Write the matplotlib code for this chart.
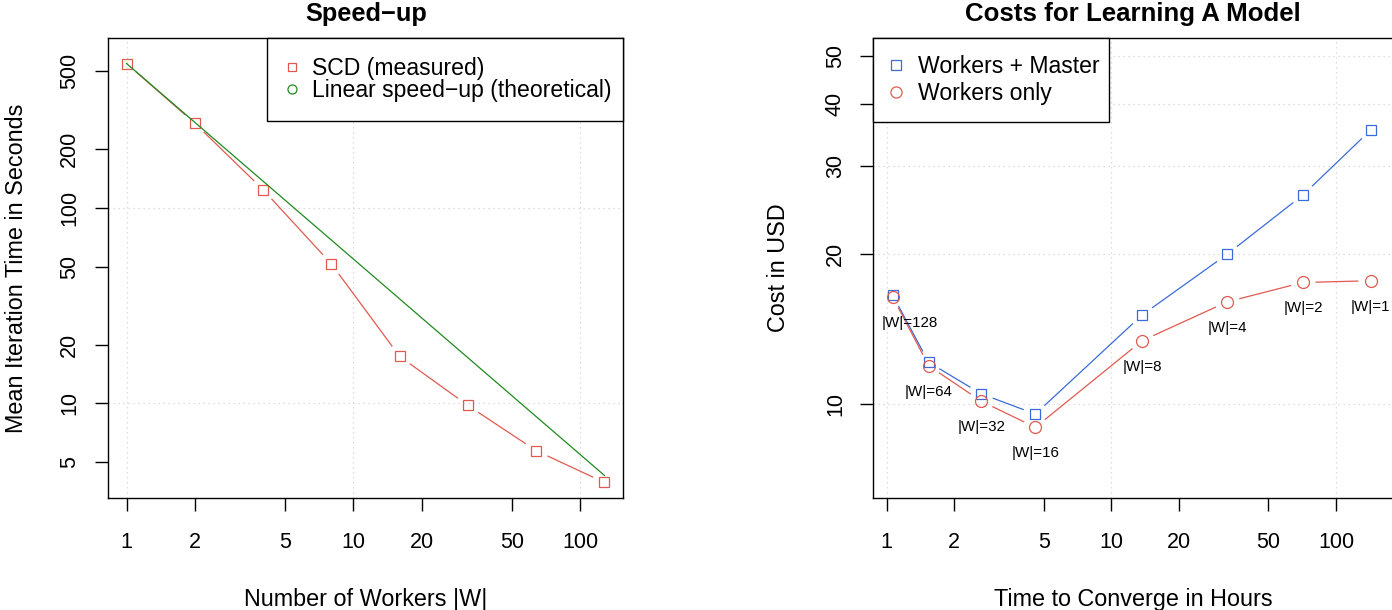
import matplotlib
matplotlib.use("Agg")
import matplotlib.pyplot as plt
from matplotlib.lines import Line2D
from matplotlib.ticker import FixedLocator, FixedFormatter, NullLocator
import numpy as np

plt.rcParams['font.family'] = ['Liberation Sans', 'DejaVu Sans']

# data
workers = [1, 2, 4, 8, 16, 32, 64, 128]
scd_time = [548, 271, 124, 51.7, 17.4, 9.76, 5.73, 3.94]
linear_time = [548, 274, 137, 68.5, 34.3, 17.1, 8.56, 4.28]

hours = [1.063, 1.538, 2.633, 4.59, 13.7, 32.8, 71.4, 142.9]
cost_total = [16.56, 12.14, 10.5, 9.56, 15.1, 20.0, 26.3, 35.5]
cost_workers = [16.43, 11.95, 10.15, 8.99, 13.41, 16.05, 17.55, 17.69]
point_labels = ['|W|=128', '|W|=64', '|W|=32', '|W|=16', '|W|=8', '|W|=4', '|W|=2', '|W|=1']

x_ticks = [1, 2, 5, 10, 20, 50, 100]
y_ticks_left = [5, 10, 20, 50, 100, 200, 500]
y_ticks_right = [10, 20, 30, 40, 50]

RED = '#e05a50'
BLUE = '#3a6bd6'
GREEN = '#1f8a1f'

W, H = 1392, 610
fig = plt.figure(figsize=(W / 100, H / 100), dpi=100)


def px_axes(x0, x1, top, bottom):
    return fig.add_axes([x0 / W, (H - bottom) / H, (x1 - x0) / W, (bottom - top) / H])


def style_axes(ax, yticks):
    ax.set_xscale('log')
    ax.set_yscale('log')
    ax.xaxis.set_major_locator(FixedLocator(x_ticks))
    ax.xaxis.set_major_formatter(FixedFormatter([str(t) for t in x_ticks]))
    ax.yaxis.set_major_locator(FixedLocator(yticks))
    ax.yaxis.set_major_formatter(FixedFormatter([str(t) for t in yticks]))
    ax.xaxis.set_minor_locator(NullLocator())
    ax.yaxis.set_minor_locator(NullLocator())
    ax.tick_params(axis='both', direction='out', length=9.7, width=1.0, labelsize=15.5, color='black')
    ax.tick_params(axis='x', pad=14.5)
    ax.tick_params(axis='y', pad=10)
    for lbl in ax.get_yticklabels():
        lbl.set_rotation(90)
        lbl.set_va('center')
    for s in ax.spines.values():
        s.set_linewidth(1.0)
        s.set_color('black')


def grid_lines(ax, xs, ys):
    for gx in xs:
        ax.axvline(gx, color='#d3d3d3', lw=0.9, ls=(0, (1, 3)), zorder=0)
    for gy in ys:
        ax.axhline(gy, color='#d3d3d3', lw=0.9, ls=(0, (1, 3)), zorder=0)


def gapped_line(ax, x, y, gap_px, **kw):
    # R type="b": line segments stop short of the points
    pts = ax.transData.transform(np.column_stack([x, y]))
    inv = ax.transData.inverted()
    for p, q in zip(pts[:-1], pts[1:]):
        d = q - p
        L = np.hypot(*d)
        if L <= 2 * gap_px:
            continue
        u = d / L
        seg = inv.transform(np.array([p + u * gap_px, q - u * gap_px]))
        ax.plot(seg[:, 0], seg[:, 1], **kw)


# ---- left: speed-up
ax1 = px_axes(107.5, 623.3, 38.2, 498.3)
style_axes(ax1, y_ticks_left)
ax1.set_xlim(0.824, 155)
ax1.set_ylim(3.27, 738.5)
grid_lines(ax1, [1, 10, 100], [10, 100])

gapped_line(ax1, workers, scd_time, 13, color=RED, lw=0.9, zorder=2)
ax1.plot(workers, scd_time, ls='none', marker='s', ms=7.6, mfc='none', mec=RED, mew=0.9, zorder=3)
ax1.plot([workers[0], workers[-1]], [linear_time[0], linear_time[-1]], color=GREEN, lw=0.9, zorder=4)

h1 = [Line2D([], [], ls='none', marker='s', ms=6.0, mfc='none', mec=RED, mew=0.9),
      Line2D([], [], ls='none', marker='o', ms=6.5, mfc='none', mec=GREEN, mew=0.9)]
x0 = (267.3 - 107.5) / (623.3 - 107.5)
leg1 = ax1.legend(h1, ['SCD (measured)', 'Linear speed\u2212up (theoretical)'],
                  loc='upper left', bbox_to_anchor=(x0, 0, 1 - x0, 1), mode='expand',
                  borderaxespad=0, fontsize=16.6, borderpad=0.83, labelspacing=-0.05,
                  handlelength=0.52, handletextpad=0.6, fancybox=False, framealpha=1,
                  edgecolor='black')
leg1.get_frame().set_linewidth(1.0)

fig.text(366 / W, (H - 20.5) / H, 'Speed\u2212up', ha='center', va='baseline',
         fontsize=18.3, fontweight='bold')
fig.text(365.4 / W, (H - 605.7) / H, 'Number of Workers |W|', ha='center', va='baseline',
         fontsize=16.8)
fig.text(22.7 / W, (H - 268) / H, 'Mean Iteration Time in Seconds', ha='center', va='baseline',
         rotation=90, rotation_mode='anchor', fontsize=16.8)

# ---- right: costs
ax2 = px_axes(873.3, 1393.5, 38.2, 498.3)
style_axes(ax2, y_ticks_right)
ax2.set_xlim(0.872, 180.3)
ax2.set_ylim(6.48, 54.2)
grid_lines(ax2, [1, 10, 100], y_ticks_right)

gapped_line(ax2, hours, cost_total, 13, color=BLUE, lw=0.9, zorder=2)
gapped_line(ax2, hours, cost_workers, 13, color=RED, lw=0.9, zorder=2)
ax2.plot(hours, cost_total, ls='none', marker='s', ms=7.6, mfc='none', mec=BLUE, mew=0.9, zorder=3)
ax2.plot(hours, cost_workers, ls='none', marker='o', ms=8.6, mfc='none', mec=RED, mew=0.9, zorder=3)

label_nudge = {0: 12}
for i, (hx, cy, lab) in enumerate(zip(hours, cost_workers, point_labels)):
    ax2.annotate(lab, (hx, cy), xytext=(label_nudge.get(i, 0), -18.7), textcoords='offset points',
                 ha='center', va='center', fontsize=10.9)

h2 = [Line2D([], [], ls='none', marker='s', ms=7.4, mfc='none', mec=BLUE, mew=0.9),
      Line2D([], [], ls='none', marker='o', ms=8.0, mfc='none', mec=RED, mew=0.9)]
w2 = (1108.7 - 873.3) / (1393.5 - 873.3)
leg2 = ax2.legend(h2, ['Workers + Master', 'Workers only'],
                  loc='upper left', bbox_to_anchor=(0, 0, w2, 1), mode='expand',
                  borderaxespad=0, fontsize=16.6, borderpad=0.74, labelspacing=0.16,
                  handlelength=0.5, handletextpad=0.69, fancybox=False, framealpha=1,
                  edgecolor='black')
leg2.get_frame().set_linewidth(1.0)

fig.text(1133 / W, (H - 20.5) / H, 'Costs for Learning A Model', ha='center', va='baseline',
         fontsize=18.6, fontweight='bold')
fig.text(1133 / W, (H - 606.3) / H, 'Time to Converge in Hours', ha='center', va='baseline',
         fontsize=16.8)
fig.text(785 / W, (H - 268) / H, 'Cost in USD', ha='center', va='baseline',
         rotation=90, rotation_mode='anchor', fontsize=16.8)

fig.savefig('out.png', dpi=100)
